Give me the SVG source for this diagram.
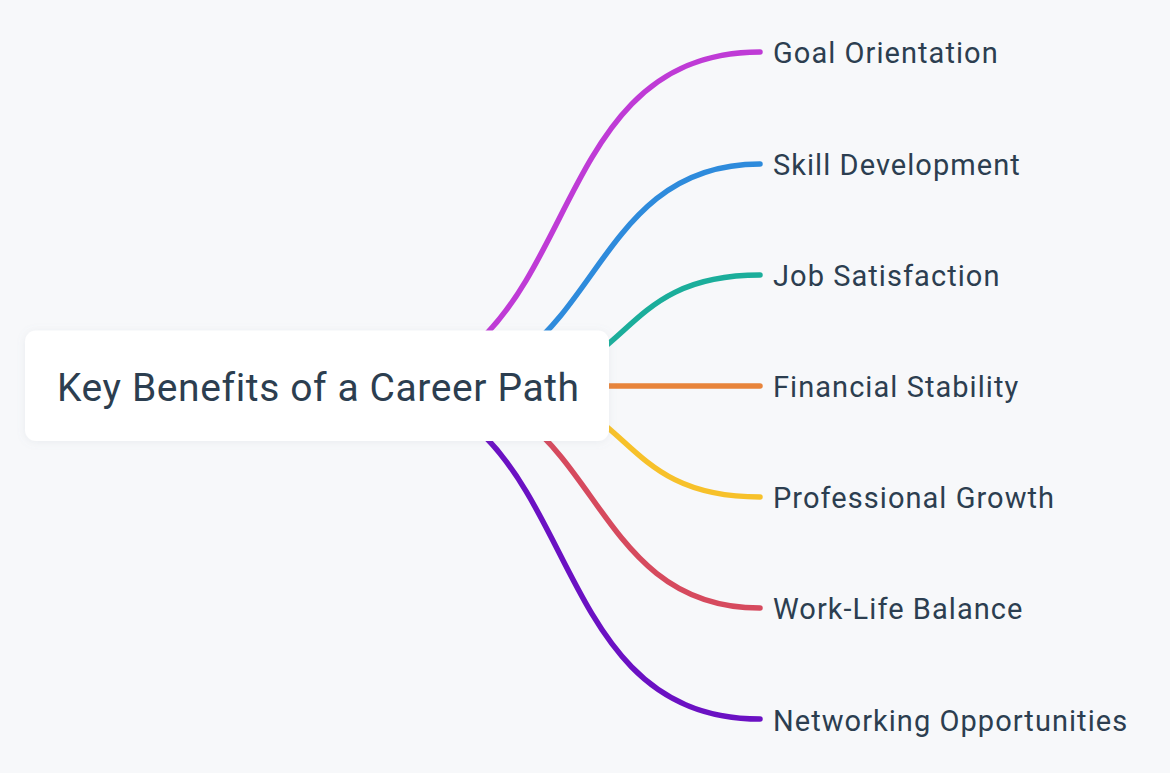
<svg xmlns="http://www.w3.org/2000/svg" width="1170" height="773" viewBox="0 0 1170 773">
  <defs>
    <style>
      .link { fill: none; stroke-width: 5.5; stroke-linecap: round; }
      .label { font-family: Roboto, "Noto Sans", "Liberation Sans", sans-serif; font-size: 29px; letter-spacing: 1.05px; fill: #2c3e50; }
      .title { font-family: Roboto, "Noto Sans", "Liberation Sans", sans-serif; font-size: 39px; letter-spacing: 0.6px; fill: #2c3e50; }
    </style>
    <filter id="shadow" x="-10%" y="-30%" width="120%" height="160%">
      <feDropShadow dx="0" dy="1" stdDeviation="4" flood-color="#8090a0" flood-opacity="0.12"/>
    </filter>
  </defs>
  <rect width="1170" height="773" fill="#f7f8fa"/>
  <g id="connectors">
    <path class="link" stroke="#bf3bd6" d="M358,386 C591,386 527,52 760,52"/>
    <path class="link" stroke="#2e8bdc" d="M422,386 C602,386 580,164 760,164"/>
    <path class="link" stroke="#1bae9b" d="M487,386 C638,386 609,275 760,275"/>
    <path class="link" stroke="#e8843b" d="M551,386 L760,386"/>
    <path class="link" stroke="#f7c12a" d="M487,386 C638,386 609,497 760,497"/>
    <path class="link" stroke="#d64a5e" d="M422,386 C602,386 580,608 760,608"/>
    <path class="link" stroke="#6b11c3" d="M358,386 C591,386 527,719 760,719"/>
  </g>
  <g id="root">
    <rect x="25" y="330.5" width="584" height="110.5" rx="11" fill="#ffffff" filter="url(#shadow)"/>
    <text class="title" x="57" y="401">Key Benefits of a Career Path</text>
  </g>
  <g id="n1"><text class="label" x="773" y="63">Goal Orientation</text></g>
  <g id="n2"><text class="label" x="773" y="175">Skill Development</text></g>
  <g id="n3"><text class="label" x="773" y="286">Job Satisfaction</text></g>
  <g id="n4"><text class="label" x="773" y="397">Financial Stability</text></g>
  <g id="n5"><text class="label" x="773" y="508">Professional Growth</text></g>
  <g id="n6"><text class="label" x="773" y="619">Work-Life Balance</text></g>
  <g id="n7"><text class="label" x="773" y="730.5">Networking Opportunities</text></g>
</svg>
